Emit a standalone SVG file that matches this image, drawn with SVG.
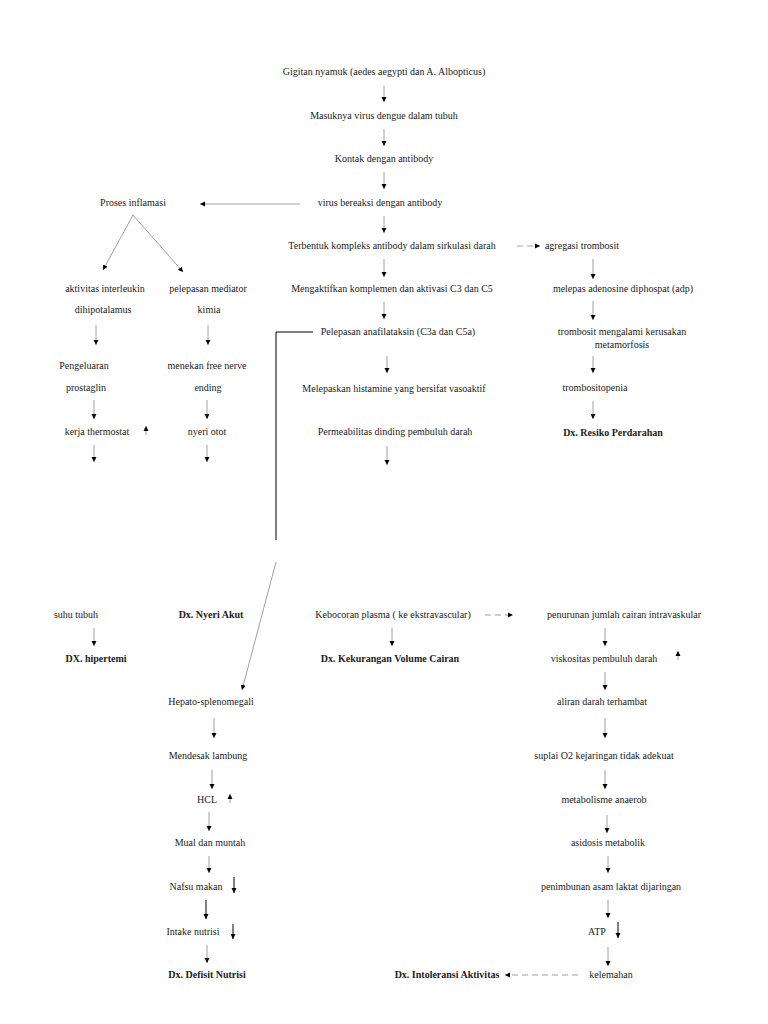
<svg xmlns="http://www.w3.org/2000/svg" width="768" height="1024" viewBox="0 0 768 1024">
<style>
text{font-family:"Liberation Serif",serif;font-size:10px;fill:#222;text-anchor:middle}
.b{font-weight:bold}
.l{text-anchor:start}
line,polyline{stroke:#888;stroke-width:0.8;fill:none}
.k{stroke:#000;stroke-width:1}
.d{stroke-dasharray:6 4}
</style>
<defs><marker id="a" markerWidth="6" markerHeight="6" refX="5" refY="3" orient="auto" markerUnits="userSpaceOnUse"><path d="M0,0.5 L5,3 L0,5.5Z" fill="#000"/></marker></defs>
<rect width="768" height="1024" fill="#fff"/>
<g id="connectors">
<line x1="384" y1="86" x2="384" y2="102" marker-end="url(#a)"/>
<line x1="384" y1="129" x2="384" y2="146" marker-end="url(#a)"/>
<line x1="384" y1="172" x2="384" y2="189" marker-end="url(#a)"/>
<line x1="300" y1="204" x2="200" y2="204" marker-end="url(#a)"/>
<line x1="133" y1="215" x2="103" y2="270" marker-end="url(#a)"/>
<line x1="133" y1="215" x2="183" y2="272" marker-end="url(#a)"/>
<line x1="384" y1="216" x2="384" y2="233" marker-end="url(#a)"/>
<line x1="517" y1="246" x2="540" y2="246" class="d" marker-end="url(#a)"/>
<line x1="384" y1="259" x2="384" y2="277" marker-end="url(#a)"/>
<line x1="593" y1="259" x2="593" y2="279" marker-end="url(#a)"/>
<line x1="593" y1="301" x2="593" y2="320" marker-end="url(#a)"/>
<line x1="593" y1="356" x2="593" y2="373" marker-end="url(#a)"/>
<line x1="593" y1="401" x2="593" y2="419" marker-end="url(#a)"/>
<line x1="384" y1="302" x2="384" y2="319" marker-end="url(#a)"/>
<polyline class="k" points="313,332 276,332 276,540"/>
<line x1="276" y1="562" x2="242" y2="690" marker-end="url(#a)"/>
<line x1="387" y1="356" x2="387" y2="373" marker-end="url(#a)"/>
<line x1="387" y1="446" x2="387" y2="465" marker-end="url(#a)"/>
<line x1="96" y1="325" x2="96" y2="345" marker-end="url(#a)"/>
<line x1="94" y1="400" x2="94" y2="419" marker-end="url(#a)"/>
<line x1="94" y1="445" x2="94" y2="462" marker-end="url(#a)"/>
<line x1="208" y1="325" x2="208" y2="345" marker-end="url(#a)"/>
<line x1="207" y1="400" x2="207" y2="419" marker-end="url(#a)"/>
<line x1="207" y1="445" x2="207" y2="462" marker-end="url(#a)"/>
<line x1="146" y1="435" x2="146" y2="426" marker-end="url(#a)"/>
<line x1="94" y1="628" x2="94" y2="646" marker-end="url(#a)"/>
<line x1="485" y1="615" x2="513" y2="615" class="d" marker-end="url(#a)"/>
<line x1="392" y1="628" x2="392" y2="646" marker-end="url(#a)"/>
<line x1="605" y1="628" x2="605" y2="646" marker-end="url(#a)"/>
<line x1="678" y1="660" x2="678" y2="651" marker-end="url(#a)"/>
<line x1="605" y1="672" x2="605" y2="690" marker-end="url(#a)"/>
<line x1="605" y1="718" x2="605" y2="738" marker-end="url(#a)"/>
<line x1="605" y1="770" x2="605" y2="789" marker-end="url(#a)"/>
<line x1="607" y1="815" x2="607" y2="833" marker-end="url(#a)"/>
<line x1="608" y1="856" x2="608" y2="873" marker-end="url(#a)"/>
<line x1="608" y1="900" x2="608" y2="918" marker-end="url(#a)"/>
<line x1="618" y1="922" x2="618" y2="938" class="k" marker-end="url(#a)"/>
<line x1="608" y1="947" x2="608" y2="966" marker-end="url(#a)"/>
<line x1="578" y1="975" x2="505" y2="975" class="d" marker-end="url(#a)"/>
<line x1="214" y1="718" x2="214" y2="738" marker-end="url(#a)"/>
<line x1="212" y1="770" x2="212" y2="789" marker-end="url(#a)"/>
<line x1="230" y1="803" x2="230" y2="794" marker-end="url(#a)"/>
<line x1="209" y1="812" x2="209" y2="831" marker-end="url(#a)"/>
<line x1="209" y1="856" x2="209" y2="873" marker-end="url(#a)"/>
<line x1="234" y1="877" x2="234" y2="893" class="k" marker-end="url(#a)"/>
<line x1="206" y1="900" x2="206" y2="919" class="k" marker-end="url(#a)"/>
<line x1="233" y1="924" x2="233" y2="939" class="k" marker-end="url(#a)"/>
<line x1="207" y1="945" x2="207" y2="963" marker-end="url(#a)"/>
</g>
<g id="n1"><text x="384" y="75">Gigitan nyamuk (aedes aegypti dan A. Albopticus)</text></g>
<g id="n2"><text x="384" y="119">Masuknya virus dengue dalam tubuh</text></g>
<g id="n3"><text x="384" y="162">Kontak dengan antibody</text></g>
<g id="n4"><text x="380" y="206">virus bereaksi dengan antibody</text></g>
<g id="n5"><text x="133" y="206">Proses inflamasi</text></g>
<g id="n6"><text x="392" y="249">Terbentuk kompleks antibody dalam sirkulasi darah</text></g>
<g id="n7"><text x="582" y="249">agregasi trombosit</text></g>
<g id="n8"><text x="392" y="292">Mengaktifkan komplemen dan aktivasi C3 dan C5</text></g>
<g id="n9"><text x="623" y="292">melepas adenosine diphospat (adp)</text></g>
<g id="n10"><text x="622" y="335">trombosit mengalami kerusakan</text><text x="622" y="348">metamorfosis</text></g>
<g id="n11"><text x="595" y="391">trombositopenia</text></g>
<g id="n12"><text x="613" y="436" class="b">Dx. Resiko Perdarahan</text></g>
<g id="n13"><text x="398" y="335">Pelepasan anafilataksin (C3a dan C5a)</text></g>
<g id="n14"><text x="394" y="392">Melepaskan histamine yang bersifat vasoaktif</text></g>
<g id="n15"><text x="395" y="435">Permeabilitas dinding pembuluh darah</text></g>
<g id="n16"><text x="105" y="292">aktivitas interleukin</text><text x="103" y="313">dihipotalamus</text></g>
<g id="n17"><text x="84" y="369">Pengeluaran</text><text x="86" y="391">prostaglin</text></g>
<g id="n18"><text x="97" y="435">kerja thermostat</text></g>
<g id="n19"><text x="208" y="292">pelepasan mediator</text><text x="209" y="313">kimia</text></g>
<g id="n20"><text x="207" y="369">menekan free nerve</text><text x="208" y="391">ending</text></g>
<g id="n21"><text x="207" y="435">nyeri otot</text></g>
<g id="n22"><text x="76" y="618">suhu tubuh</text></g>
<g id="n23"><text x="96" y="662" class="b">DX. hipertemi</text></g>
<g id="n24"><text x="211" y="618" class="b">Dx. Nyeri Akut</text></g>
<g id="n25"><text x="393" y="618">Kebocoran plasma ( ke ekstravascular)</text></g>
<g id="n26"><text x="624" y="618">penurunan jumlah cairan intravaskular</text></g>
<g id="n27"><text x="390" y="662" class="b">Dx. Kekurangan Volume Cairan</text></g>
<g id="n28"><text x="604" y="662">viskositas pembuluh darah</text></g>
<g id="n29"><text x="602" y="705">aliran darah terhambat</text></g>
<g id="n30"><text x="604" y="759">suplai O2 kejaringan tidak adekuat</text></g>
<g id="n31"><text x="604" y="803">metabolisme anaerob</text></g>
<g id="n32"><text x="608" y="846">asidosis metabolik</text></g>
<g id="n33"><text x="611" y="890">penimbunan asam laktat dijaringan</text></g>
<g id="n34"><text x="597" y="935">ATP</text></g>
<g id="n35"><text x="611" y="978">kelemahan</text></g>
<g id="n36"><text x="447" y="978" class="b">Dx. Intoleransi Aktivitas</text></g>
<g id="n37"><text x="211" y="705">Hepato-splenomegali</text></g>
<g id="n38"><text x="208" y="759">Mendesak lambung</text></g>
<g id="n39"><text x="207" y="803">HCL</text></g>
<g id="n40"><text x="210" y="846">Mual dan muntah</text></g>
<g id="n41"><text x="196" y="890">Nafsu makan</text></g>
<g id="n42"><text x="193" y="935">Intake nutrisi</text></g>
<g id="n43"><text x="207" y="978" class="b">Dx. Defisit Nutrisi</text></g>
</svg>
